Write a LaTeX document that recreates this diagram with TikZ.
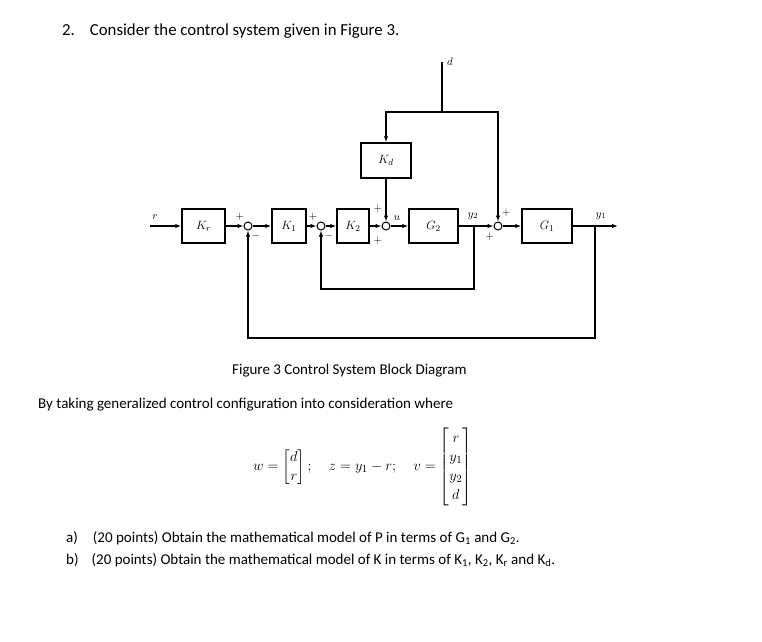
\documentclass[tikz,border=0pt]{standalone}
\usepackage{fontspec}
\setmainfont{Carlito}
\usepackage{amsmath}
\usetikzlibrary{arrows.meta}
\begin{document}
\begin{tikzpicture}[x=1pt,y=-1pt,
  blk/.style={draw,line width=1.5pt,minimum width=#1,minimum height=34pt,inner sep=0pt,font=\fontsize{13}{14}\selectfont},
  blk/.default=44pt,
  sumc/.style={draw,circle,line width=1pt,minimum size=8pt,inner sep=0pt},
  ln/.style={line width=1.6pt},
  ar/.style={line width=1.6pt,-{Latex[length=6pt,width=4.5pt]}},
  lbl/.style={font=\fontsize{11}{12}\selectfont,inner sep=1pt},
  txt/.style={font=\fontsize{15}{17}\selectfont,anchor=west,inner sep=0pt}]
\useasboundingbox (0,0) rectangle (762,641);
\node[txt,font=\fontsize{16.8}{19}\selectfont] (q) at (62,31) {2.\hspace{15pt}Consider the control system given in Figure 3.};
% blocks
\node[blk=43pt] (Kr) at (203.5,226) {$K_r$};
\node[sumc] (s1) at (248,226) {};
\node[blk=34pt] (K1) at (289,226) {$K_1$};
\node[sumc] (s2) at (321,226) {};
\node[blk=32pt] (K2) at (353,226) {$K_2$};
\node[sumc] (s3) at (386,226) {};
\node[blk=49pt] (G2) at (433.5,226) {$G_2$};
\node[sumc] (s4) at (498,226) {};
\node[blk=50pt] (G1) at (547,226) {$G_1$};
\node[blk=50pt,minimum height=35pt] (Kd) at (386,160.5) {$K_d$};
\coordinate (rin) at (150,226);
\coordinate (yout) at (618,226);
\coordinate (dtop) at (442,62);
\coordinate (dj) at (442,112);
\coordinate (kdt) at (386,112);
\coordinate (s4t) at (498,112);
\coordinate (b2) at (474,226);
\coordinate (b1) at (595,226);
\coordinate (f2a) at (474,289);
\coordinate (f2b) at (321,289);
\coordinate (f1a) at (595,338);
\coordinate (f1b) at (248,338);
% connectors
\draw[ar] (rin) -- (Kr);
\draw[ar] (Kr) -- (s1);
\draw[ar] (s1) -- (K1);
\draw[ar] (K1) -- (s2);
\draw[ar] (s2) -- (K2);
\draw[ar] (K2) -- (s3);
\draw[ar] (s3) -- (G2);
\draw[ar] (G2) -- (s4);
\draw[ar] (s4) -- (G1);
\draw[ar] (G1) -- (yout);
\draw[ln] (dtop) -- (dj);
\draw[ar] (dj) -- (kdt) -- (Kd);
\draw[ar] (dj) -- (s4t) -- (s4);
\draw[ar] (Kd) -- (s3);
\draw[ar] (b2) -- (f2a) -- (f2b) -- (s2);
\draw[ar] (b1) -- (f1a) -- (f1b) -- (s1);
% labels
\node[lbl] (lr) at (155,217) {$r$};
\node[lbl] (ld) at (450,62) {$d$};
\node[lbl] (lu) at (397,218) {$u$};
\node[lbl] (ly2) at (473,216) {$y_2$};
\node[lbl] (ly1) at (601,216) {$y_1$};
\node[lbl] (p1) at (240,217) {$+$};
\node[lbl] (m1) at (256,236) {$-$};
\node[lbl] (p2) at (313,217) {$+$};
\node[lbl] (m2) at (329,236) {$-$};
\node[lbl] (p3a) at (378,209) {$+$};
\node[lbl] (p3b) at (378,241) {$+$};
\node[lbl] (p4a) at (506,213) {$+$};
\node[lbl] (p4b) at (490,237) {$+$};
% text
\node[txt] (cap) at (232,371) {Figure 3 Control System Block Diagram};
\node[txt] (by) at (38,405) {By taking generalized control configuration into consideration where};
\node[anchor=west,inner sep=0pt,font=\fontsize{15}{18}\selectfont] (eq) at (253,467)
 {\setlength{\arraycolsep}{7pt}\renewcommand{\arraystretch}{1.05}$w=\begin{bmatrix} d\\ r\end{bmatrix};\quad z=y_1-r;\quad v=\begin{bmatrix} r\\ y_1\\ y_2\\ d\end{bmatrix}$};
\node[txt] (a) at (66,538) {a)\hspace{15pt}(20 points) Obtain the mathematical model of P in terms of G\textsubscript{1} and G\textsubscript{2}.};
\node[txt] (b) at (66,560) {b)\hspace{13pt}(20 points) Obtain the mathematical model of K in terms of K\textsubscript{1}, K\textsubscript{2}, K\textsubscript{r} and K\textsubscript{d}.};
\end{tikzpicture}
\end{document}
